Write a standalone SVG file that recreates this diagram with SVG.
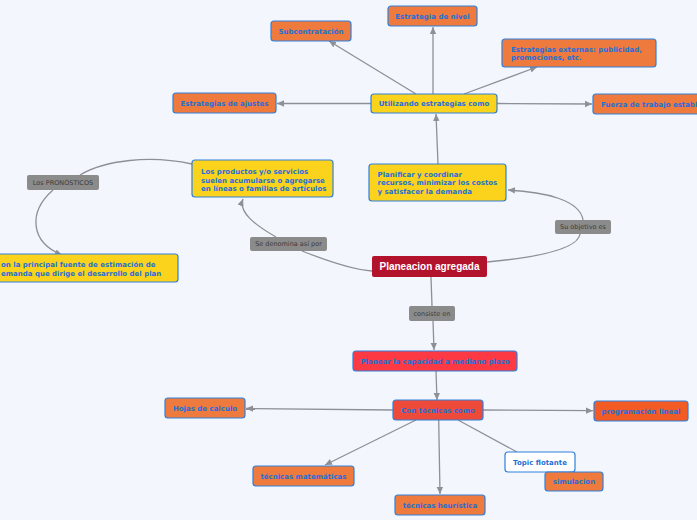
<svg xmlns="http://www.w3.org/2000/svg" width="697" height="520" viewBox="0 0 697 520">
<defs>
<style>
.bg{fill:#f3f6fd}
.n rect{stroke:#2f80dc;stroke-width:1.2}
.or rect{fill:#ef7a3e}
.ye rect{fill:#fcd31c}
.t{font-family:"DejaVu Sans",Verdana,sans-serif;font-weight:bold;font-size:7px;fill:#1f6fd6}
.lb rect{fill:#8b8b8b;stroke:none}
.lt{font-family:"DejaVu Sans",Verdana,sans-serif;font-size:6.5px;fill:#3b3b3b}
.c path{fill:none;stroke:#8e9097;stroke-width:1.3}
.a{marker-end:url(#ar)}
</style>
<marker id="ar" markerUnits="userSpaceOnUse" markerWidth="8" markerHeight="8" refX="7" refY="4" orient="auto">
<path d="M0,0.8 L7,4 L0,7.2 z" fill="#8e9097"/>
</marker>
</defs>
<rect class="bg" x="0" y="0" width="697" height="520"/>

<g id="connectors" class="c">
<path class="a" d="M416,94 L329,41"/>
<path class="a" d="M433,94 L433,27"/>
<path class="a" d="M464,94 L537,67"/>
<path class="a" d="M371,103.5 L277,103.5"/>
<path class="a" d="M497,103.5 L592,104"/>
<path class="a" d="M438,164 L436,114"/>
<path d="M487,262 C530,258 578,250 580,234"/>
<path class="a" d="M583,220 C580,200 545,192 508,190"/>
<path d="M372,271 C355,270 330,262 302,251"/>
<path class="a" d="M276,237 C255,225 238,212 243,199"/>
<path d="M192,164 C150,155 105,160 80,175"/>
<path class="a" d="M53,190 C28,212 30,242 62,255"/>
<path d="M431,277 L432,306"/>
<path class="a" d="M433,321 L434,350"/>
<path class="a" d="M436,371 L437,400"/>
<path class="a" d="M393,410 L246,408.5"/>
<path class="a" d="M483,410 L593,410.7"/>
<path class="a" d="M416,420 L325,465"/>
<path class="a" d="M438.7,420 L440,494"/>
<path d="M458,420 L517,452"/>
</g>

<g id="subcontratacion" class="n or"><rect x="271" y="21" width="80" height="20" rx="3"/><text class="t" x="311" y="33.5" text-anchor="middle">Subcontratación</text></g>
<g id="estrategia-nivel" class="n or"><rect x="388" y="6" width="89" height="20" rx="3"/><text class="t" x="432.5" y="18.5" text-anchor="middle">Estrategia de nivel</text></g>
<g id="estrategias-externas" class="n or"><rect x="502" y="39" width="154" height="28" rx="3"/><text class="t" x="511" y="51.5">Estrategias externas: publicidad,</text><text class="t" x="511" y="59.5">promociones, etc.</text></g>
<g id="estrategias-ajustes" class="n or"><rect x="173" y="93" width="103" height="20" rx="3"/><text class="t" x="224.5" y="105.5" text-anchor="middle">Estrategias de ajustes</text></g>
<g id="utilizando" class="n ye"><rect x="371" y="94" width="126" height="19" rx="3"/><text class="t" x="434" y="106" text-anchor="middle">Utilizando estrategias como</text></g>
<g id="fuerza" class="n or"><rect x="593" y="94" width="120" height="20" rx="3"/><text class="t" x="601" y="106.5">Fuerza de trabajo estable</text></g>
<g id="productos" class="n ye"><rect x="192" y="160" width="141" height="37" rx="3"/><text class="t" x="201" y="174">Los productos y/o servicios</text><text class="t" x="201" y="182.5">suelen acumularse o agregarse</text><text class="t" x="201" y="191">en líneas o familias de artículos</text></g>
<g id="pronosticos" class="lb"><rect x="27" y="175" width="72" height="15" rx="2"/><text class="lt" x="63" y="184.8" text-anchor="middle">Los PRONÓSTICOS</text></g>
<g id="fuente" class="n ye"><rect x="-10" y="254" width="188" height="28" rx="3"/><text class="t" x="1" y="266.5">on la principal fuente de estimación de</text><text class="t" x="1" y="275.5">emanda que dirige el desarrollo del plan</text></g>
<g id="se-denomina" class="lb"><rect x="250" y="237" width="77" height="14" rx="2"/><text class="lt" x="288.5" y="246.3" text-anchor="middle">Se denomina así por</text></g>
<g id="planificar" class="n ye"><rect x="369" y="164" width="137" height="37" rx="3"/><text class="t" x="377.5" y="176.5">Planificar y coordinar</text><text class="t" x="377.5" y="185.2">recursos, minimizar los costos</text><text class="t" x="377.5" y="194">y satisfacer la demanda</text></g>
<g id="su-objetivo" class="lb"><rect x="555" y="220" width="56" height="14" rx="2"/><text class="lt" x="583" y="229.3" text-anchor="middle">Su objetivo es</text></g>
<g id="planeacion"><rect x="372" y="256" width="115" height="21" rx="2" fill="#b3122c"/><text x="429.5" y="270" text-anchor="middle" font-family="'Liberation Sans',Arial,sans-serif" font-weight="bold" font-size="10" fill="#ffffff">Planeacion agregada</text></g>
<g id="consiste" class="lb"><rect x="409" y="306" width="46" height="15" rx="2"/><text class="lt" x="432" y="315.8" text-anchor="middle">consiste en</text></g>
<g id="planear" class="n"><rect x="353" y="351" width="164" height="20" rx="3" fill="#fd3a43"/><text class="t" x="435" y="363.5" text-anchor="middle">Planear la capacidad a mediano plazo</text></g>
<g id="con-tecnicas" class="n"><rect x="393" y="400" width="90" height="20" rx="3" fill="#ee4a3a"/><text class="t" x="438" y="412.5" text-anchor="middle">Con técnicas como</text></g>
<g id="hojas" class="n or"><rect x="165" y="398" width="80" height="20" rx="3"/><text class="t" x="205" y="410.5" text-anchor="middle">Hojas de calculo</text></g>
<g id="programacion" class="n"><rect x="594" y="401" width="94" height="20" rx="3" fill="#f25c24"/><text class="t" x="641" y="413.5" text-anchor="middle">programación lineal</text></g>
<g id="matematicas" class="n or"><rect x="253" y="466" width="101" height="20" rx="3"/><text class="t" x="303.5" y="478.5" text-anchor="middle">técnicas matemáticas</text></g>
<g id="heuristica" class="n or"><rect x="395" y="495" width="90" height="20" rx="3"/><text class="t" x="440" y="507.5" text-anchor="middle">técnicas heurística</text></g>
<g id="topic-flotante" class="n"><rect x="505" y="452" width="70" height="20" rx="3" fill="#ffffff"/><text class="t" x="540" y="464.5" text-anchor="middle">Topic flotante</text></g>
<g id="simulacion" class="n or"><rect x="545" y="472" width="58" height="19" rx="3"/><text class="t" x="574" y="484" text-anchor="middle">simulacion</text></g>
</svg>
